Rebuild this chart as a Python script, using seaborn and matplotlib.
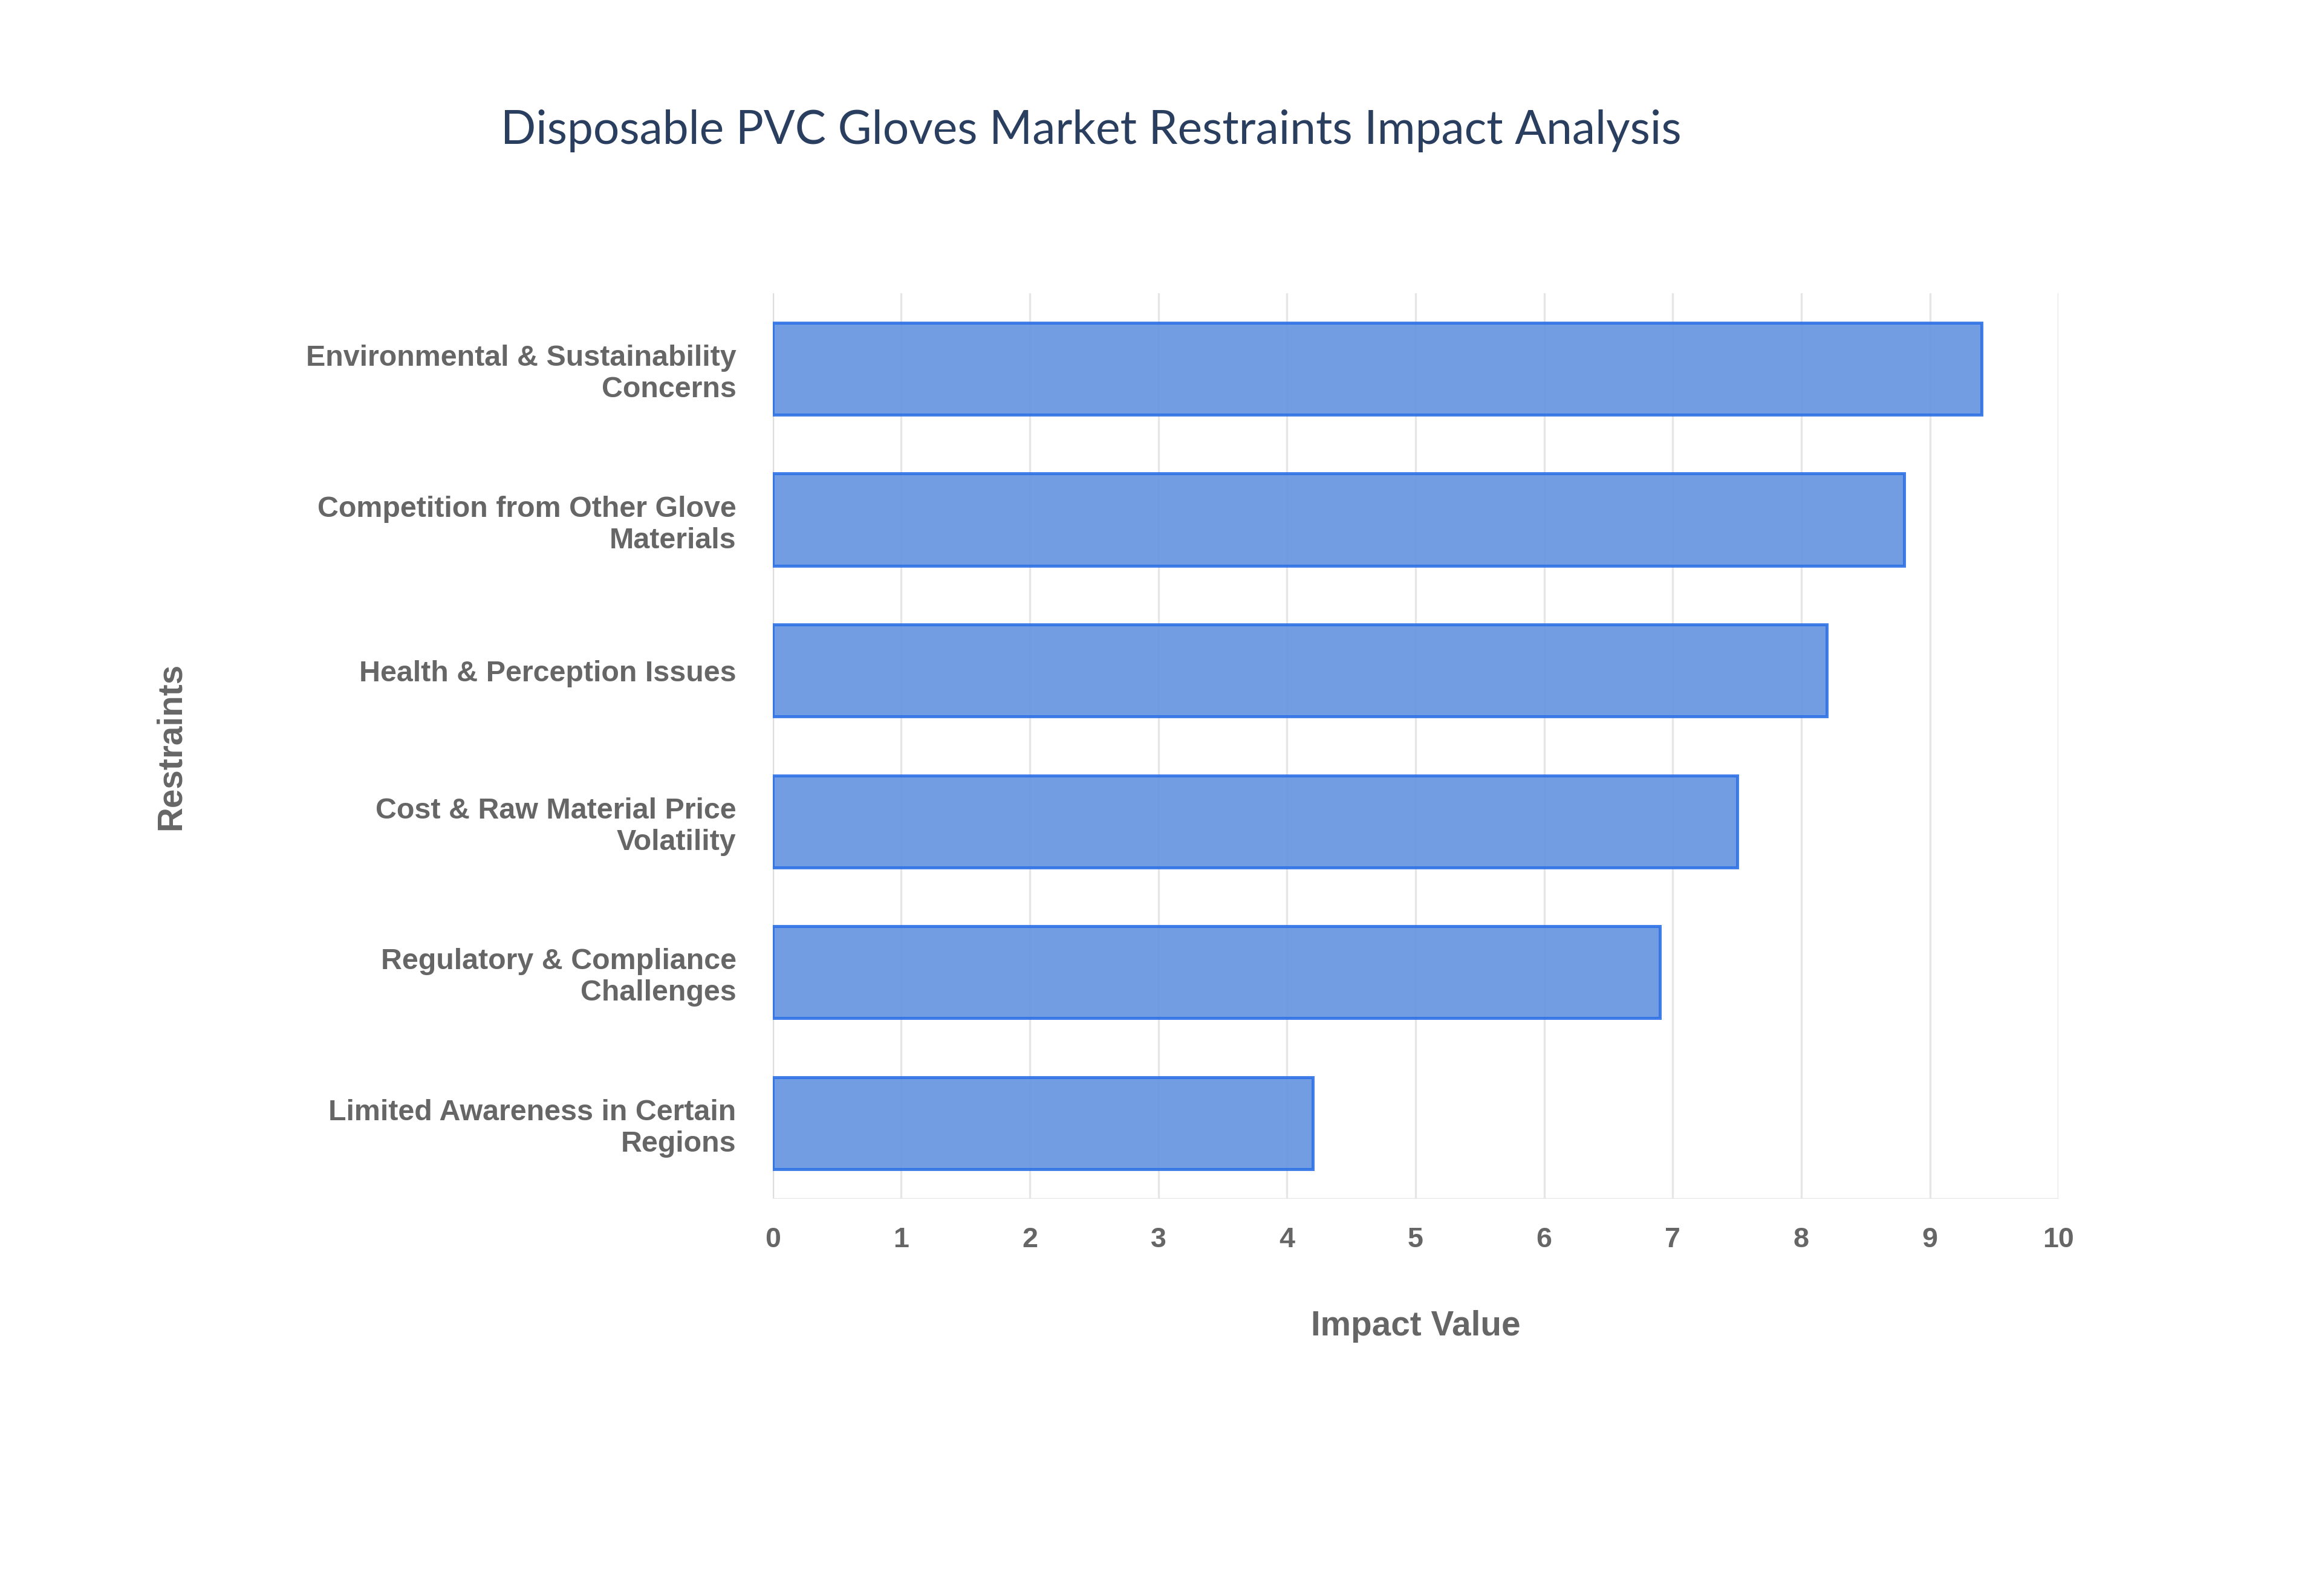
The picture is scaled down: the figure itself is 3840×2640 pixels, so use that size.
import matplotlib
matplotlib.use("Agg")
import matplotlib.pyplot as plt
import seaborn as sns
import pandas as pd

categories = ["Environmental & Sustainability\nConcerns",
              "Competition from Other Glove\nMaterials",
              "Health & Perception Issues",
              "Cost & Raw Material Price\nVolatility",
              "Regulatory & Compliance\nChallenges",
              "Limited Awareness in Certain\nRegions"]
values = [9.4, 8.8, 8.2, 7.5, 6.9, 4.2]
xticks = list(range(0, 11))

df = pd.DataFrame({"Restraints": categories, "Impact Value": values})

sns.set_theme(style="white")
plt.rcParams['font.family'] = ['Liberation Sans', 'DejaVu Sans']

fig = plt.figure(figsize=(16, 11), dpi=240)
ax = fig.add_axes([0.3327, 0.249, 0.5538, 0.5672])
sns.barplot(data=df, x="Impact Value", y="Restraints", orient="h",
            color="#4f8ef5", edgecolor="#2f72e6", linewidth=1.5, width=0.61,
            alpha=0.9, ax=ax, zorder=3)
ax.set_xlim(0, 10)
ax.set_xticks(xticks)
ax.set_xticklabels([str(t) for t in xticks], fontsize=14, fontweight='bold', color='#666666')
ax.tick_params(axis='y', labelsize=14.5, labelcolor='#666666', length=0, pad=18)
for t in ax.get_yticklabels():
    t.set_fontweight('bold')
    t.set_horizontalalignment('right')
ax.tick_params(axis='x', length=0, pad=14)
ax.grid(axis='x', color='#e6e6e6', linewidth=1, zorder=0)
for s in ax.spines.values():
    s.set_visible(False)
ax.axvline(0, color='#dddddd', linewidth=1, zorder=1)
ax.axhline(ax.get_ylim()[0], color='#e6e6e6', linewidth=1, zorder=1)
ax.set_xlabel("Impact Value", fontsize=17, fontweight='bold', color='#666666', labelpad=28)
ax.set_ylabel("Restraints", fontsize=17, fontweight='bold', color='#666666', labelpad=0)
ax.yaxis.set_label_coords(-0.455, 0.5)
fig.text(0.47, 0.918, "Disposable PVC Gloves Market Restraints Impact Analysis",
         ha='center', va='center', fontsize=23, color='#2a3f5f',
         family=['Lato', 'DejaVu Sans'])
fig.savefig("out.png", dpi=240)
